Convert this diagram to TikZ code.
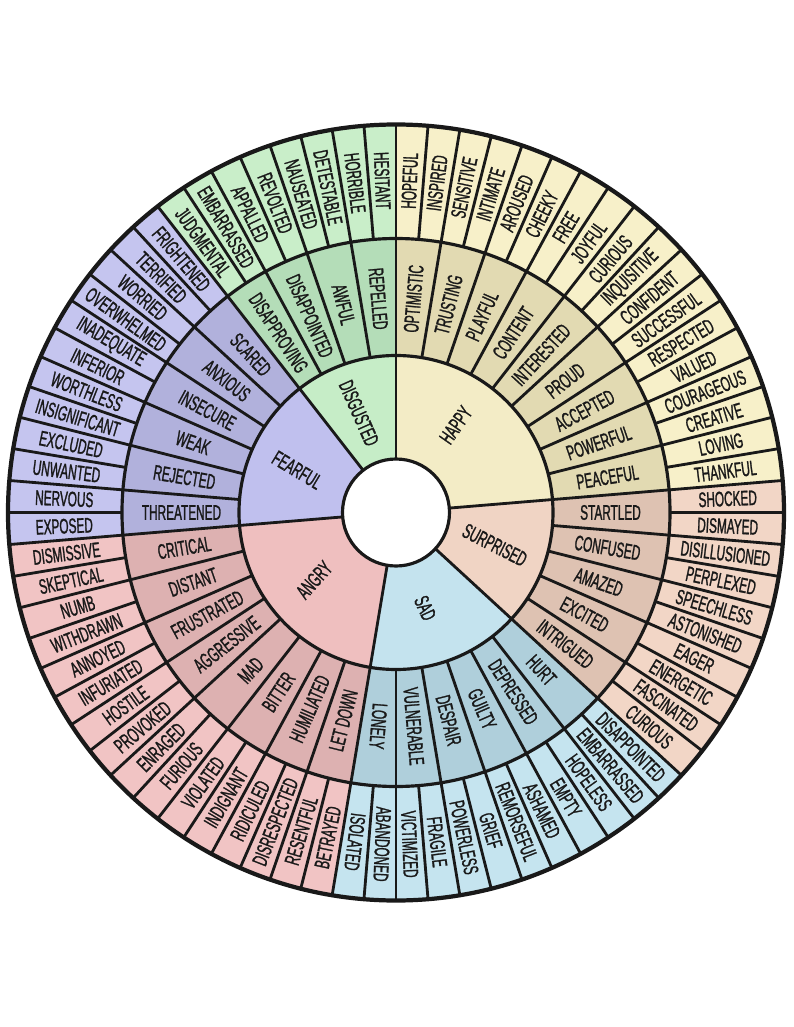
\documentclass[tikz,border=0pt]{standalone}
\usepackage{fontspec}
\setmainfont{Liberation Sans}[FakeStretch=0.56, FakeBold=1.2]

\definecolor{happyout}{HTML}{F7F0C9}
\definecolor{happymid}{HTML}{E2DAB2}
\definecolor{happycore}{HTML}{F3ECC6}
\definecolor{surpout}{HTML}{F2D6C6}
\definecolor{surpmid}{HTML}{DEC2B2}
\definecolor{surpcore}{HTML}{F0D4C4}
\definecolor{sadout}{HTML}{C5E4EF}
\definecolor{sadmid}{HTML}{AFCFDB}
\definecolor{sadcore}{HTML}{C4E3EE}
\definecolor{angryout}{HTML}{F1C4C4}
\definecolor{angrymid}{HTML}{DDB1B1}
\definecolor{angrycore}{HTML}{EFBFBF}
\definecolor{fearout}{HTML}{C5C5EF}
\definecolor{fearmid}{HTML}{B1B1DC}
\definecolor{fearcore}{HTML}{C0C0EE}
\definecolor{disgout}{HTML}{C9EEC9}
\definecolor{disgmid}{HTML}{B4DDB8}
\definecolor{disgcore}{HTML}{C6EDC7}

\tikzset{
  ring/.style={line width=1.8pt, color=black!90},
  rim/.style={line width=2.4pt, color=black!90},
  spoke/.style={line width=1.6pt, color=black!90},
  lbl/.style={inner sep=0pt, text=black!90, font=\fontsize{12}{12}\selectfont},
}

% one outer slice is 360/76 degrees
\def\wstep{4.7368421}
\newcommand{\outword}[3]{\node[lbl, rotate={90-(#2+0.5)*\wstep}] (#1) at ({90-(#2+0.5)*\wstep}:6.64) {#3};}
\newcommand{\outwordin}[3]{\node[lbl, rotate={270-(#2+0.5)*\wstep}] (#1) at ({90-(#2+0.5)*\wstep}:6.64) {#3};}
\newcommand{\midword}[3]{\node[lbl, rotate={90-(2*#2+1)*\wstep}] (#1) at ({90-(2*#2+1)*\wstep}:4.29) {#3};}
\newcommand{\midwordin}[3]{\node[lbl, rotate={270-(2*#2+1)*\wstep}] (#1) at ({90-(2*#2+1)*\wstep}:4.29) {#3};}

\begin{document}
\begin{tikzpicture}
   \useasboundingbox (-7.92,-10.29) rectangle (7.96,10.25);
   \fill [white] (-7.92,-10.29) rectangle (7.96,10.25);

   \fill [happyout] (0,0) -- (90:7.76) arc(90:4.737:7.76) -- cycle;
   \fill [surpout] (0,0) -- (4.737:7.76) arc(4.737:-42.632:7.76) -- cycle;
   \fill [sadout] (0,0) -- (-42.632:7.76) arc(-42.632:-99.474:7.76) -- cycle;
   \fill [angryout] (0,0) -- (-99.474:7.76) arc(-99.474:-175.263:7.76) -- cycle;
   \fill [fearout] (0,0) -- (-175.263:7.76) arc(-175.263:-232.105:7.76) -- cycle;
   \fill [disgout] (0,0) -- (-232.105:7.76) arc(-232.105:-270:7.76) -- cycle;

   \fill [happymid] (0,0) -- (90:5.48) arc(90:4.737:5.48) -- cycle;
   \fill [surpmid] (0,0) -- (4.737:5.48) arc(4.737:-42.632:5.48) -- cycle;
   \fill [sadmid] (0,0) -- (-42.632:5.48) arc(-42.632:-99.474:5.48) -- cycle;
   \fill [angrymid] (0,0) -- (-99.474:5.48) arc(-99.474:-175.263:5.48) -- cycle;
   \fill [fearmid] (0,0) -- (-175.263:5.48) arc(-175.263:-232.105:5.48) -- cycle;
   \fill [disgmid] (0,0) -- (-232.105:5.48) arc(-232.105:-270:5.48) -- cycle;

   \fill [happycore] (0,0) -- (90:3.14) arc(90:4.737:3.14) -- cycle;
   \fill [surpcore] (0,0) -- (4.737:3.14) arc(4.737:-42.632:3.14) -- cycle;
   \fill [sadcore] (0,0) -- (-42.632:3.14) arc(-42.632:-99.474:3.14) -- cycle;
   \fill [angrycore] (0,0) -- (-99.474:3.14) arc(-99.474:-175.263:3.14) -- cycle;
   \fill [fearcore] (0,0) -- (-175.263:3.14) arc(-175.263:-232.105:3.14) -- cycle;
   \fill [disgcore] (0,0) -- (-232.105:3.14) arc(-232.105:-270:3.14) -- cycle;

   \foreach \k in {0,...,75}
      \draw[spoke] ({90-\k*\wstep}:5.48) -- ({90-\k*\wstep}:7.76);
   \foreach \k in {0,2,...,74}
      \draw[spoke] ({90-\k*\wstep}:3.14) -- ({90-\k*\wstep}:5.48);
   \foreach \k in {0,18,28,40,56,68}
      \draw[spoke] ({90-\k*\wstep}:1.07) -- ({90-\k*\wstep}:3.14);

   \draw[ring] (0,0) circle (3.14);
   \draw[ring] (0,0) circle (5.48);
   \draw[rim] (0,0) circle (7.76);
   \filldraw[ring, fill=white] (0,0) circle (1.07);

   \node[lbl, rotate=55] (happy) at (55.6:2.12) {HAPPY};
   \node[lbl, rotate=-27] (surprised) at (-18.2:2.08) {SURPRISED};
   \node[lbl, rotate=-65] (sad) at (-73:2.0) {SAD};
   \node[lbl, rotate=48] (angry) at (219.5:2.12) {ANGRY};
   \node[lbl, rotate=-31] (fearful) at (156.8:2.15) {FEARFUL};
   \node[lbl, rotate=-66] (disgusted) at (110.4:2.12) {DISGUSTED};

   \midword{optimistic}{0}{OPTIMISTIC}
   \midword{trusting}{1}{TRUSTING}
   \midword{playful}{2}{PLAYFUL}
   \midword{content}{3}{CONTENT}
   \midword{interested}{4}{INTERESTED}
   \midword{proud}{5}{PROUD}
   \midword{accepted}{6}{ACCEPTED}
   \midword{powerful}{7}{POWERFUL}
   \midword{peaceful}{8}{PEACEFUL}
   \midword{startled}{9}{STARTLED}
   \midword{confused}{10}{CONFUSED}
   \midword{amazed}{11}{AMAZED}
   \midword{excited}{12}{EXCITED}
   \midword{intrigued}{13}{INTRIGUED}
   \midword{hurt}{14}{HURT}
   \midword{depressed}{15}{DEPRESSED}
   \midword{guilty}{16}{GUILTY}
   \midword{despair}{17}{DESPAIR}
   \midword{vulnerable}{18}{VULNERABLE}
   \midword{lonely}{19}{LONELY}
   \midwordin{letdown}{20}{LET DOWN}
   \midwordin{humiliated}{21}{HUMILIATED}
   \midwordin{bitter}{22}{BITTER}
   \midwordin{mad}{23}{MAD}
   \midwordin{aggressive}{24}{AGGRESSIVE}
   \midwordin{frustrated}{25}{FRUSTRATED}
   \midwordin{distant}{26}{DISTANT}
   \midwordin{critical}{27}{CRITICAL}
   \midwordin{threatened}{28}{THREATENED}
   \midwordin{rejected}{29}{REJECTED}
   \midwordin{weak}{30}{WEAK}
   \midwordin{insecure}{31}{INSECURE}
   \midwordin{anxious}{32}{ANXIOUS}
   \midwordin{scared}{33}{SCARED}
   \midwordin{disapproving}{34}{DISAPPROVING}
   \midwordin{disappointed-m}{35}{DISAPPOINTED}
   \midwordin{awful}{36}{AWFUL}
   \midwordin{repelled}{37}{REPELLED}

   \outword{hopeful}{0}{HOPEFUL}
   \outword{inspired}{1}{INSPIRED}
   \outword{sensitive}{2}{SENSITIVE}
   \outword{intimate}{3}{INTIMATE}
   \outword{aroused}{4}{AROUSED}
   \outword{cheeky}{5}{CHEEKY}
   \outword{free}{6}{FREE}
   \outword{joyful}{7}{JOYFUL}
   \outword{curious-h}{8}{CURIOUS}
   \outword{inquisitive}{9}{INQUISITIVE}
   \outword{confident}{10}{CONFIDENT}
   \outword{successful}{11}{SUCCESSFUL}
   \outword{respected}{12}{RESPECTED}
   \outword{valued}{13}{VALUED}
   \outword{courageous}{14}{COURAGEOUS}
   \outword{creative}{15}{CREATIVE}
   \outword{loving}{16}{LOVING}
   \outword{thankful}{17}{THANKFUL}
   \outword{shocked}{18}{SHOCKED}
   \outword{dismayed}{19}{DISMAYED}
   \outword{disillusioned}{20}{DISILLUSIONED}
   \outword{perplexed}{21}{PERPLEXED}
   \outword{speechless}{22}{SPEECHLESS}
   \outword{astonished}{23}{ASTONISHED}
   \outword{eager}{24}{EAGER}
   \outword{energetic}{25}{ENERGETIC}
   \outword{fascinated}{26}{FASCINATED}
   \outword{curious-s}{27}{CURIOUS}
   \outword{disappointed-o}{28}{DISAPPOINTED}
   \outword{embarrassed-s}{29}{EMBARRASSED}
   \outword{hopeless}{30}{HOPELESS}
   \outword{empty}{31}{EMPTY}
   \outword{ashamed}{32}{ASHAMED}
   \outword{remorseful}{33}{REMORSEFUL}
   \outword{grief}{34}{GRIEF}
   \outword{powerless}{35}{POWERLESS}
   \outword{fragile}{36}{FRAGILE}
   \outword{victimized}{37}{VICTIMIZED}
   \outword{abandoned}{38}{ABANDONED}
   \outword{isolated}{39}{ISOLATED}
   \outwordin{betrayed}{40}{BETRAYED}
   \outwordin{resentful}{41}{RESENTFUL}
   \outwordin{disrespected}{42}{DISRESPECTED}
   \outwordin{ridiculed}{43}{RIDICULED}
   \outwordin{indignant}{44}{INDIGNANT}
   \outwordin{violated}{45}{VIOLATED}
   \outwordin{furious}{46}{FURIOUS}
   \outwordin{enraged}{47}{ENRAGED}
   \outwordin{provoked}{48}{PROVOKED}
   \outwordin{hostile}{49}{HOSTILE}
   \outwordin{infuriated}{50}{INFURIATED}
   \outwordin{annoyed}{51}{ANNOYED}
   \outwordin{withdrawn}{52}{WITHDRAWN}
   \outwordin{numb}{53}{NUMB}
   \outwordin{skeptical}{54}{SKEPTICAL}
   \outwordin{dismissive}{55}{DISMISSIVE}
   \outwordin{exposed}{56}{EXPOSED}
   \outwordin{nervous}{57}{NERVOUS}
   \outwordin{unwanted}{58}{UNWANTED}
   \outwordin{excluded}{59}{EXCLUDED}
   \outwordin{insignificant}{60}{INSIGNIFICANT}
   \outwordin{worthless}{61}{WORTHLESS}
   \outwordin{inferior}{62}{INFERIOR}
   \outwordin{inadequate}{63}{INADEQUATE}
   \outwordin{overwhelmed}{64}{OVERWHELMED}
   \outwordin{worried}{65}{WORRIED}
   \outwordin{terrified}{66}{TERRIFIED}
   \outwordin{frightened}{67}{FRIGHTENED}
   \outwordin{judgmental}{68}{JUDGMENTAL}
   \outwordin{embarrassed-d}{69}{EMBARRASSED}
   \outwordin{appalled}{70}{APPALLED}
   \outwordin{revolted}{71}{REVOLTED}
   \outwordin{nauseated}{72}{NAUSEATED}
   \outwordin{detestable}{73}{DETESTABLE}
   \outwordin{horrible}{74}{HORRIBLE}
   \outwordin{hesitant}{75}{HESITANT}
\end{tikzpicture}
\end{document}
